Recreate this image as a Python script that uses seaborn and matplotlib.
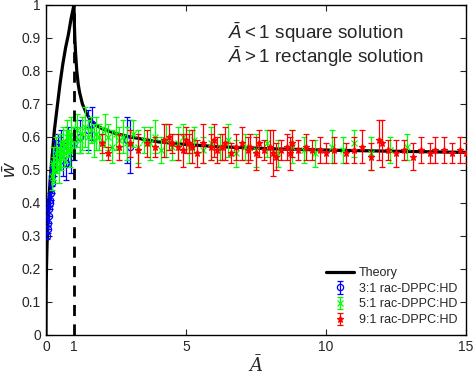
import numpy as np
import pandas as pd
import seaborn as sns
import matplotlib.pyplot as plt

# theory curve
theory_A = [0, 0.005, 0.01, 0.02, 0.04, 0.06, 0.1, 0.15, 0.2, 0.3, 0.4, 0.5, 0.6, 0.7, 0.8, 0.9, 1.0,
            1.01, 1.03, 1.06, 1.1, 1.15, 1.2, 1.3, 1.45, 1.6, 1.8, 2.0, 2.5, 3.0, 4.0, 5.0, 6.0,
            8.0, 10.0, 12.0, 15.0]
theory_w = [0, 0.12, 0.16, 0.21, 0.28, 0.32, 0.40, 0.47, 0.52, 0.62, 0.69, 0.76, 0.82, 0.87, 0.91, 0.96, 1.0,
            0.95, 0.90, 0.85, 0.80, 0.76, 0.735, 0.70, 0.67, 0.65, 0.635, 0.625, 0.61, 0.60, 0.585, 0.577, 0.571,
            0.564, 0.56, 0.557, 0.553]

# 3:1 rac-DPPC:HD
blue_A = [0.05, 0.07, 0.09, 0.1, 0.12, 0.13, 0.15, 0.17, 0.2, 0.22, 0.25, 0.3, 0.33, 0.38,
          0.42, 0.5, 0.55, 0.6, 0.7, 0.8, 0.9, 1.0, 1.2, 1.5, 1.65, 2.9, 3.0]
blue_w = [0.30, 0.32, 0.34, 0.36, 0.38, 0.40, 0.41, 0.43, 0.46, 0.48, 0.50, 0.52, 0.55, 0.54,
          0.57, 0.55, 0.58, 0.53, 0.52, 0.57, 0.55, 0.58, 0.60, 0.62, 0.64, 0.59, 0.57]
blue_err = [0.01, 0.01, 0.02, 0.02, 0.02, 0.02, 0.02, 0.02, 0.03, 0.03, 0.03, 0.04, 0.04, 0.03,
            0.04, 0.05, 0.04, 0.05, 0.05, 0.06, 0.06, 0.05, 0.05, 0.06, 0.05, 0.07, 0.08]

# 5:1 rac-DPPC:HD
green_A = [0.2, 0.25, 0.3, 0.35, 0.4, 0.45, 0.5, 0.55, 0.6, 0.65, 0.7, 0.75, 0.8, 0.85, 0.9, 0.95,
           1.05, 1.1, 1.2, 1.3, 1.4, 1.5, 1.6, 1.7, 1.8, 1.9, 2.0, 2.1, 2.2, 2.35, 2.5, 2.6, 2.75, 2.9,
           3.1, 3.3, 3.5, 3.7, 3.9, 4.1, 4.3, 4.5, 4.7, 4.9,
           5.1, 5.3, 5.6, 5.9, 6.2, 6.5, 6.8, 7.1, 7.5, 7.9,
           8.3, 8.8, 9.2, 9.6, 10.2, 10.6, 11.0, 11.6, 12.3, 12.9]
green_w = [0.48, 0.52, 0.50, 0.55, 0.53, 0.51, 0.56, 0.54, 0.58, 0.55, 0.57, 0.60, 0.58, 0.56, 0.61, 0.59,
           0.60, 0.62, 0.59, 0.61, 0.63, 0.60, 0.62, 0.59, 0.61, 0.60, 0.58, 0.62, 0.60, 0.57, 0.61, 0.59, 0.60, 0.58,
           0.61, 0.57, 0.59, 0.58, 0.60, 0.56, 0.59, 0.57, 0.58, 0.60,
           0.57, 0.59, 0.56, 0.58, 0.57, 0.59, 0.55, 0.57, 0.56, 0.58,
           0.55, 0.57, 0.56, 0.55, 0.57, 0.56, 0.58, 0.55, 0.56, 0.57]
green_err = [0.04, 0.05, 0.04, 0.05, 0.04, 0.05, 0.05, 0.04, 0.05, 0.04, 0.05, 0.05, 0.04, 0.05, 0.05, 0.04,
             0.05, 0.05, 0.04, 0.05, 0.06, 0.05, 0.04, 0.05, 0.05, 0.04, 0.05, 0.05, 0.04, 0.05, 0.05, 0.04, 0.05, 0.05,
             0.04, 0.05, 0.04, 0.05, 0.05, 0.04, 0.05, 0.04, 0.05, 0.04,
             0.05, 0.04, 0.04, 0.05, 0.04, 0.05, 0.04, 0.04, 0.05, 0.04,
             0.04, 0.05, 0.04, 0.04, 0.05, 0.04, 0.04, 0.05, 0.04, 0.04]

# 9:1 rac-DPPC:HD
red_A = [2.0, 2.2, 2.6, 3.0, 3.3, 3.6, 3.9, 4.2, 4.4, 4.5,
         4.7, 4.9, 5.0, 5.1, 5.2, 5.4, 5.6, 5.9, 6.0, 6.1,
         6.3, 6.4, 6.6, 6.8, 7.0, 7.2, 7.3, 7.5, 7.6, 7.8,
         8.0, 8.1, 8.2, 8.4, 8.6, 8.7, 8.8, 9.0, 9.3, 9.5,
         9.8, 10.0, 10.3, 10.7, 11.0, 11.3, 11.6, 11.9, 12.0, 12.2,
         12.5, 12.8, 13.1, 13.4, 13.7, 13.9, 14.2, 14.5, 14.8, 15.0]
red_w = [0.58, 0.55, 0.57, 0.58, 0.56, 0.58, 0.57, 0.59, 0.60, 0.58,
         0.57, 0.56, 0.59, 0.58, 0.57, 0.55, 0.58, 0.57, 0.59, 0.56,
         0.57, 0.58, 0.55, 0.57, 0.58, 0.56, 0.57, 0.55, 0.58, 0.56,
         0.57, 0.55, 0.54, 0.56, 0.57, 0.55, 0.58, 0.56, 0.57, 0.56,
         0.56, 0.55, 0.56, 0.55, 0.56, 0.57, 0.54, 0.59, 0.58, 0.56,
         0.55, 0.56, 0.54, 0.56, 0.55, 0.56, 0.56, 0.55, 0.56, 0.55]
red_err = [0.03, 0.02, 0.04, 0.04, 0.05, 0.04, 0.03, 0.05, 0.04, 0.03,
           0.04, 0.05, 0.04, 0.03, 0.05, 0.04, 0.06, 0.04, 0.05, 0.04,
           0.04, 0.05, 0.03, 0.04, 0.05, 0.04, 0.04, 0.05, 0.04, 0.03,
           0.05, 0.07, 0.04, 0.03, 0.04, 0.05, 0.04, 0.03, 0.04, 0.03,
           0.04, 0.03, 0.04, 0.03, 0.04, 0.05, 0.04, 0.06, 0.07, 0.03,
           0.04, 0.03, 0.04, 0.04, 0.03, 0.04, 0.04, 0.03, 0.04, 0.03]

sns.set_style("ticks")
plt.rcParams['font.family'] = ['Liberation Sans', 'DejaVu Sans']
plt.rcParams['mathtext.fontset'] = 'custom'
plt.rcParams['mathtext.it'] = 'Liberation Sans:italic'
plt.rcParams['mathtext.rm'] = 'Liberation Sans'

fig = plt.figure(figsize=(4.74, 3.75), dpi=100)
ax = fig.add_axes([0.097, 0.107, 0.886, 0.88])

theory = pd.DataFrame({'A': theory_A, 'w': theory_w})
sns.lineplot(data=theory, x='A', y='w', ax=ax, color='black', lw=2.3,
             sort=False, label='Theory', zorder=2)

ax.errorbar(blue_A, blue_w, yerr=blue_err, fmt='o', color='blue', mfc='none',
            ms=4.5, mew=0.9, elinewidth=0.9, capsize=2.5, label='3:1 rac-DPPC:HD', zorder=3)
ax.errorbar(green_A, green_w, yerr=green_err, fmt='x', color='#00ff00',
            ms=4, mew=0.9, elinewidth=0.9, capsize=2.5, label='5:1 rac-DPPC:HD', zorder=4)
ax.errorbar(red_A, red_w, yerr=red_err, fmt='*', color='red',
            ms=5, mew=0.9, elinewidth=0.9, capsize=2.5, label='9:1 rac-DPPC:HD', zorder=5)

ax.plot([1, 1], [0, 1], color='black', lw=2, dashes=(4, 3), zorder=6)

ax.set_xlim(0, 15)
ax.set_ylim(0, 1)
ax.set_xticks([0, 1, 5, 10, 15])
ax.set_xticklabels(['0', '1', '5', '10', '15'])
ax.set_yticks(np.arange(0, 1.01, 0.1))
ax.set_yticklabels(['0', '0.1', '0.2', '0.3', '0.4', '0.5', '0.6', '0.7', '0.8', '0.9', '1'])
ax.tick_params(direction='in', top=True, right=True, labelsize=10, length=4, width=0.8)
for s in ax.spines.values():
    s.set_linewidth(1)
    s.set_color('black')

ax.set_xlabel('Ā', family='DejaVu Serif', style='italic', fontsize=13, labelpad=2)
ax.set_ylabel(r'$\bar{w}$', fontsize=14, va='center', ha='center')
ax.yaxis.set_label_coords(-0.084, 0.5)

ax.text(0.433, 0.915, r'$\bar{A} < 1$ square solution', transform=ax.transAxes,
        fontsize=13.6, va='center')
ax.text(0.433, 0.842, r'$\bar{A} > 1$ rectangle solution', transform=ax.transAxes,
        fontsize=13.6, va='center')

ax.legend(loc='lower right', bbox_to_anchor=(1.0, 0.0), frameon=False, fontsize=9,
          handlelength=2.2, labelspacing=0.3, handletextpad=0.4, borderpad=0.2)

fig.savefig('out.png', dpi=100)
